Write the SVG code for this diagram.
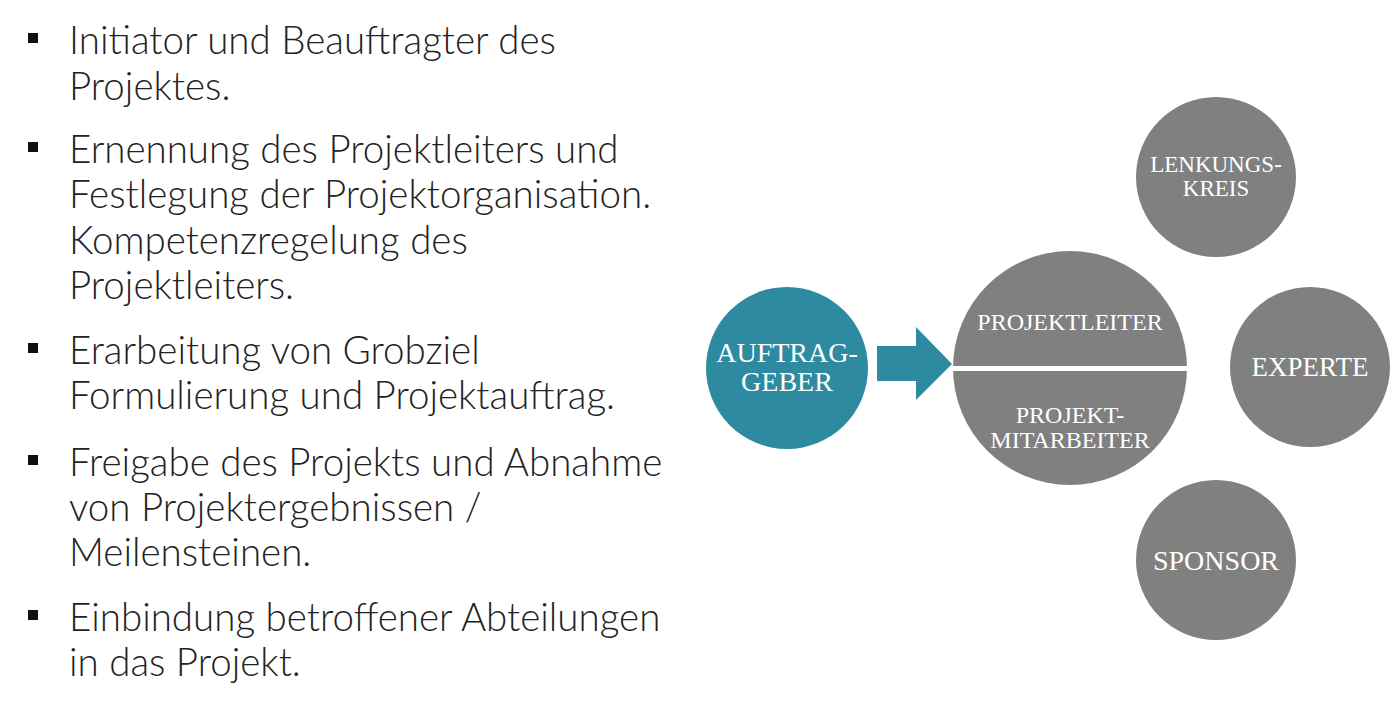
<svg xmlns="http://www.w3.org/2000/svg" width="1392" height="723" viewBox="0 0 1392 723">
<style>
.t{font-family:Lato,"Open Sans",sans-serif;font-weight:300;font-size:38.5px;fill:#222}
.c{font-family:"Liberation Serif",serif;fill:#fff;text-anchor:middle}
.g{fill:#808080}
.b{fill:#111}
</style>
<rect width="1392" height="723" fill="#fff"/>
<g id="bullets">
<rect class="b" x="28" y="33" width="10" height="10"/>
<rect class="b" x="28" y="142" width="10" height="10"/>
<rect class="b" x="28" y="343" width="10" height="10"/>
<rect class="b" x="28" y="455" width="10" height="10"/>
<rect class="b" x="28" y="610" width="10" height="10"/>
<text class="t" x="69" y="54">Initiator und Beauftragter des</text>
<text class="t" x="69" y="100">Projektes.</text>
<text class="t" x="69" y="163">Ernennung des Projektleiters und</text>
<text class="t" x="69" y="208">Festlegung der Projektorganisation.</text>
<text class="t" x="69" y="254">Kompetenzregelung des</text>
<text class="t" x="69" y="299">Projektleiters.</text>
<text class="t" x="69" y="364">Erarbeitung von Grobziel</text>
<text class="t" x="69" y="409">Formulierung und Projektauftrag.</text>
<text class="t" x="69" y="476">Freigabe des Projekts und Abnahme</text>
<text class="t" x="69" y="521">von Projektergebnissen /</text>
<text class="t" x="69" y="566">Meilensteinen.</text>
<text class="t" x="69" y="631">Einbindung betroffener Abteilungen</text>
<text class="t" x="69" y="676">in das Projekt.</text>
</g>
<g id="auftraggeber">
<circle cx="787" cy="368" r="81" fill="#2e8aa0"/>
<text class="c" x="787" y="362" font-size="28">AUFTRAG-</text>
<text class="c" x="787" y="391" font-size="28">GEBER</text>
</g>
<g id="connectors">
<polygon points="877,346 916,346 916,327 952,364 916,400 916,381 877,381" fill="#2e8aa0"/>
</g>
<g id="projekt">
<circle class="g" cx="1070" cy="368" r="117"/>
<rect x="953" y="366" width="234" height="5" fill="#fff"/>
<text class="c" x="1070" y="330" font-size="24">PROJEKTLEITER</text>
<text class="c" x="1070" y="423" font-size="24">PROJEKT-</text>
<text class="c" x="1070" y="448" font-size="24">MITARBEITER</text>
</g>
<g id="lenkungskreis">
<circle class="g" cx="1216" cy="177" r="80"/>
<text class="c" x="1216" y="172" font-size="23">LENKUNGS-</text>
<text class="c" x="1216" y="196" font-size="23">KREIS</text>
</g>
<g id="experte">
<circle class="g" cx="1310" cy="367" r="80"/>
<text class="c" x="1310" y="376" font-size="27">EXPERTE</text>
</g>
<g id="sponsor">
<circle class="g" cx="1216" cy="560" r="80"/>
<text class="c" x="1216" y="570" font-size="28">SPONSOR</text>
</g>
</svg>
